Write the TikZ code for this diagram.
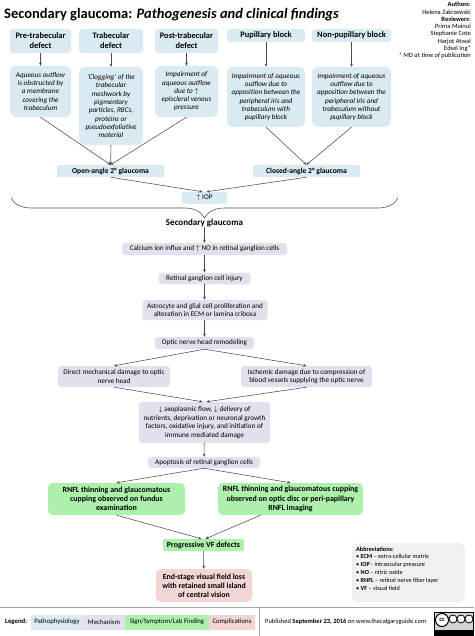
\documentclass[tikz,border=0pt]{standalone}
\usepackage{fontspec}
\setmainfont{Carlito}
\usetikzlibrary{arrows.meta, decorations.pathreplacing}
\definecolor{cblue}{RGB}{218,234,242}
\definecolor{cpurp}{RGB}{228,223,236}
\definecolor{cgreen}{RGB}{172,240,172}
\definecolor{cpink}{RGB}{242,214,214}
\definecolor{cgray}{RGB}{240,240,240}
\definecolor{cline}{RGB}{75,75,75}
\tikzset{
  base/.style={inner sep=0pt, align=center, text=black},
  sz/.style 2 args={minimum width=#1pt, minimum height=#2pt},
  hdr/.style={base, fill=cblue, rounded corners=3pt, font=\fontsize{8.4}{10}\selectfont\bfseries},
  desc/.style={base, fill=cblue, rounded corners=6pt, font=\fontsize{7.2}{8.3}\selectfont\itshape},
  glau/.style={base, fill=cblue, rounded corners=1pt, font=\fontsize{7.6}{9}\selectfont\bfseries},
  mech/.style={base, fill=cpurp, rounded corners=3pt, font=\fontsize{7.2}{8.6}\selectfont},
  sign/.style={base, fill=cgreen, rounded corners=5pt, font=\fontsize{7.9}{9.2}\selectfont\bfseries},
  comp/.style={base, fill=cpink, rounded corners=5pt, font=\fontsize{7.8}{9.2}\selectfont\bfseries},
  legbox/.style={base, minimum height=15pt, font=\fontsize{6.8}{8}\selectfont},
  arr/.style={draw=cline, line width=0.55pt, -{Stealth[length=3.2pt,width=2.8pt]}},
}
\begin{document}
\begin{tikzpicture}[x=1pt,y=-1pt]
\useasboundingbox (0,0) rectangle (474,636);
\fill[white] (0,0) rectangle (474,636);

% title and authors
\node[anchor=base west, inner sep=0, font=\fontsize{14.5}{16}\selectfont\bfseries] (title) at (4,18.5) {Secondary glaucoma: \textit{Pathogenesis and clinical findings}};
\node[anchor=north east, inner sep=0, align=right, font=\fontsize{6.5}{7.3}\selectfont] (auth) at (471,2) {\textbf{Authors}:\\Helena Zakrzewski\\\textbf{Reviewers}:\\Prima Moinul\\Stephanie Cote\\Harjot Atwal\\Edsel Ing*\\\textit{* MD at time of publication}};

% headers
\node[hdr, sz={61}{24}] (preh) at (40.5,41) {Pre-trabecular\\defect};
\node[hdr, sz={64}{24}] (trabh) at (111,41) {Trabecular\\defect};
\node[hdr, sz={63}{24}] (posth) at (186.5,41) {Post-trabecular\\defect};
\node[hdr, sz={78}{13}] (puph) at (266,35.5) {Pupillary block};
\node[hdr, sz={79}{13}] (nonh) at (351.5,35.5) {Non-pupillary block};

% descriptions
\node[desc, sz={61}{51}] (pred) at (40.5,91.5) {Aqueous outflow\\is obstructed by\\a membrane\\covering the\\trabeculum};
\node[desc, sz={64}{78}] (trabd) at (111,106) {‘Clogging’ of the\\trabecular\\meshwork by\\pigmentary\\particles, RBCs,\\proteins or\\pseudoexfoliative\\material};
\node[desc, sz={63}{51}] (postd) at (186.5,91.5) {Impairment of\\aqueous outflow\\due to $\uparrow$\\episcleral venous\\pressure};
\node[desc, sz={78}{60}] (pupd) at (266,97) {Impairment of aqueous\\outflow due to\\apposition between the\\peripheral iris and\\trabeculum with\\pupillary block};
\node[desc, sz={79}{60}] (nond) at (351.5,97) {Impairment of aqueous\\outflow due to\\apposition between the\\peripheral iris and\\trabeculum without\\pupillary block};

\node[glau, sz={107}{12}] (open) at (110.5,171) {Open-angle 2° glaucoma};
\node[glau, sz={107}{12}] (closed) at (306.5,171) {Closed-angle 2° glaucoma};
\node[base, fill=cblue, rounded corners=1pt, sz={45}{12}, font=\fontsize{7.2}{8.6}\selectfont] (iop) at (204.5,198) {$\uparrow$ IOP};

\draw[cline, line width=0.55pt, decorate, decoration={brace, mirror, amplitude=20pt}] (11,198) -- (398,198);
\node[inner sep=0, font=\fontsize{9}{10}\selectfont\bfseries] (sg) at (204.5,223) {Secondary glaucoma};

% mechanism chain
\node[mech, sz={165}{12}] (calc) at (204.5,249) {Calcium ion influx and $\uparrow$ NO in retinal ganglion cells};
\node[mech, sz={92}{11.5}] (rgc) at (204.5,278.5) {Retinal ganglion cell injury};
\node[mech, sz={125}{20}] (astro) at (205,310) {Astrocyte and glial cell proliferation and\\alteration in ECM or lamina cribosa};
\node[mech, sz={99}{12}] (optic) at (204.5,343) {Optic nerve head remodeling};
\node[mech, sz={112}{21}] (direct) at (114,376.5) {Direct mechanical damage to optic\\nerve head};
\node[mech, sz={131}{21}] (isch) at (306.5,376.5) {Ischemic damage due to compression of\\blood vessels supplying the optic nerve};
\node[mech, sz={131}{41}] (axo) at (204.5,422.5) {$\downarrow$ axoplasmic flow, $\downarrow$ delivery of\\nutrients, deprivation or neuronal growth\\factors, oxidative injury, and initiation of\\immune mediated damage};
\node[mech, sz={112}{11}] (apop) at (204,462.5) {Apoptosis of retinal ganglion cells};

% signs
\node[sign, sz={137}{32}] (rnfll) at (116.5,499) {RNFL thinning and glaucomatous\\cupping observed on fundus\\examination};
\node[sign, sz={145}{32}] (rnflr) at (290.5,499) {RNFL thinning and glaucomatous cupping\\observed on optic disc or peri-papillary\\RNFL imaging};
\node[sign, rounded corners=2pt, sz={81}{12}] (prog) at (203.5,545) {Progressive VF defects};
\node[comp, sz={96}{33}] (endst) at (204,585.5) {End-stage visual field loss\\with retained small island\\of central vision};

% abbreviations
\fill[cgray, rounded corners=7pt] (352,543) rectangle (465,602);
\node[anchor=north west, inner sep=0, align=left, font=\fontsize{6.2}{7.9}\selectfont] (abbr) at (356,546.5) {\textbf{Abbreviations:}\\• \textbf{ECM} – extra-cellular matrix\\• \textbf{IOP} - intraocular pressure\\• \textbf{NO} – nitric oxide\\• \textbf{RNFL} – retinal nerve fiber layer\\• \textbf{VF} – visual field};

% connectors
\draw[arr] (preh) -- (pred);
\draw[arr] (trabh) -- (trabd);
\draw[arr] (posth) -- (postd);
\draw[arr] (puph) -- (pupd);
\draw[arr] (nonh) -- (nond);
\draw[arr] (pred.south) -- (open.north);
\draw[arr] (trabd.south) -- (open.north);
\draw[arr] (postd.south) -- (open.north);
\draw[arr] (pupd.south) -- (closed.north);
\draw[arr] (nond.south) -- (closed.north);
\draw[arr] (open.south) -- ([xshift=-2pt]iop.north);
\draw[arr] (closed.south) -- ([xshift=2pt]iop.north);
\draw[arr] (sg) -- (calc);
\draw[arr] (calc) -- (rgc);
\draw[arr] (rgc) -- ([xshift=-0.5pt]astro.north);
\draw[arr] ([xshift=-0.5pt]astro.south) -- (optic);
\draw[arr] (optic.south) -- (direct.north);
\draw[arr] (optic.south) -- (isch.north);
\draw[arr] (direct.south) -- ([xshift=-2pt]axo.north);
\draw[arr] (isch.south) -- ([xshift=2pt]axo.north);
\draw[arr] (axo) -- (apop);
\draw[arr] (apop.south) -- (rnfll.north);
\draw[arr] (apop.south) -- (rnflr.north);
\draw[arr] (rnfll.south) -- ([xshift=-2pt]prog.north);
\draw[arr] ([xshift=-30pt]rnflr.south) -- ([xshift=2pt]prog.north);
\draw[arr] (prog) -- (endst);

% footer
\draw[gray!70, line width=0.5pt] (0,607) -- (474,607);
\draw[gray!70, line width=0.5pt] (259,607) -- (259,636);
\node[anchor=west, inner sep=0, font=\fontsize{6.8}{8}\selectfont\bfseries] (leg) at (5,622) {Legend:};
\node[legbox, fill=cblue, minimum width=52pt] (l1) at (57,622) {Pathophysiology};
\node[legbox, fill=cpurp, minimum width=42pt] (l2) at (104,622) {Mechanism};
\node[legbox, fill=cgreen, minimum width=84pt] (l3) at (167,622) {Sign/Symptom/Lab Finding};
\node[legbox, fill=cpink, minimum width=46pt] (l4) at (232,622) {Complications};
\node[anchor=west, inner sep=0, font=\fontsize{6.5}{8}\selectfont] (pub) at (265,622) {Published \textbf{September 23, 2016} on www.thecalgaryguide.com};

% CC logo
\draw[fill=gray!35, line width=0.6pt] (434,612) rectangle (473,640);
\fill[black] (434,630) rectangle (473,640);
\node[circle, draw, fill=white, line width=1pt, minimum size=13pt, inner sep=0, font=\fontsize{6.5}{7}\selectfont\bfseries] (cc) at (442,620) {cc};
\node[circle, draw, fill=white, line width=0.8pt, minimum size=8pt, inner sep=0] (c1) at (453,619) {};
\node[circle, draw, fill=white, line width=0.8pt, minimum size=8pt, inner sep=0] (c2) at (461,619) {};
\node[circle, draw, fill=white, line width=0.8pt, minimum size=8pt, inner sep=0] (c3) at (469,619) {};
\end{tikzpicture}
\end{document}
